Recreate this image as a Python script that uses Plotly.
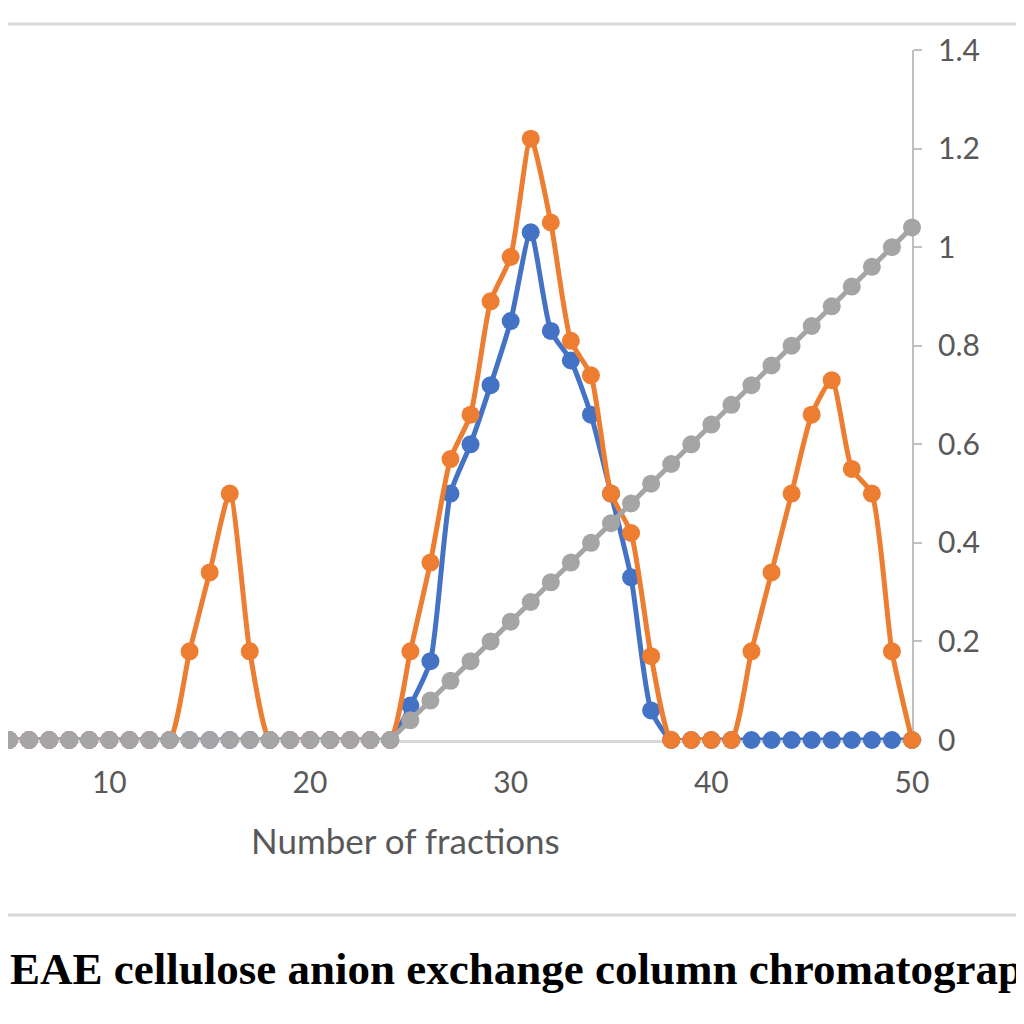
import plotly.graph_objects as go

# fraction numbers and readings
fractions = list(range(1, 51))

protein = [0, 0, 0, 0, 0, 0, 0, 0, 0, 0,
           0, 0, 0, 0, 0, 0, 0, 0, 0, 0,
           0, 0, 0, 0, 0.07, 0.16, 0.50, 0.60, 0.72, 0.85,
           1.03, 0.83, 0.77, 0.66, 0.50, 0.33, 0.06, 0, 0, 0,
           0, 0, 0, 0, 0, 0, 0, 0, 0, 0]

carbohydrate = [0, 0, 0, 0, 0, 0, 0, 0, 0, 0,
                0, 0, 0, 0.18, 0.34, 0.50, 0.18, 0, 0, 0,
                0, 0, 0, 0, 0.18, 0.36, 0.57, 0.66, 0.89, 0.98,
                1.22, 1.05, 0.81, 0.74, 0.50, 0.42, 0.17, 0, 0, 0,
                0, 0.18, 0.34, 0.50, 0.66, 0.73, 0.55, 0.50, 0.18, 0]

nacl = [0, 0, 0, 0, 0, 0, 0, 0, 0, 0,
        0, 0, 0, 0, 0, 0, 0, 0, 0, 0,
        0, 0, 0, 0, 0.04, 0.08, 0.12, 0.16, 0.20, 0.24,
        0.28, 0.32, 0.36, 0.40, 0.44, 0.48, 0.52, 0.56, 0.60, 0.64,
        0.68, 0.72, 0.76, 0.80, 0.84, 0.88, 0.92, 0.96, 1.00, 1.04]

x_ticks = [10, 20, 30, 40, 50]
y_ticks = [0, 0.2, 0.4, 0.6, 0.8, 1, 1.2, 1.4]

caption = "EAE cellulose anion exchange column chromatograp"
x_title = "Number of fractions"

fig = go.Figure()

# blue first, orange on top, gray on top of everything (like excel)
fig.add_trace(go.Scatter(x=fractions, y=protein, mode="lines+markers",
                         line=dict(color="#4472C4", width=5, shape="spline", smoothing=0.6),
                         marker=dict(color="#4472C4", size=18), cliponaxis=False))
fig.add_trace(go.Scatter(x=fractions, y=carbohydrate, mode="lines+markers",
                         line=dict(color="#ED7D31", width=5, shape="spline", smoothing=0.6),
                         marker=dict(color="#ED7D31", size=18), cliponaxis=False))
fig.add_trace(go.Scatter(x=fractions, y=nacl, mode="lines+markers",
                         line=dict(color="#A5A5A5", width=5),
                         marker=dict(color="#A5A5A5", size=18), cliponaxis=False))

tick_font = dict(family="Lato", size=30, color="#595959")

# page has an 8px body margin, so margins are shifted by that
fig.update_layout(
    width=1024, height=1024,
    margin=dict(l=0, r=120, t=42, b=292),
    paper_bgcolor="white", plot_bgcolor="white",
    showlegend=False,
    xaxis=dict(range=[4.95, 50], tickvals=x_ticks, ticks="", showgrid=False,
               zeroline=False, showline=True, linecolor="#d9d9d9", linewidth=3,
               layer="below traces", tickfont=tick_font, ticklabelstandoff=14),
    yaxis=dict(range=[0, 1.4], tickvals=y_ticks, side="right", showgrid=False,
               zeroline=False, showline=True, linecolor="#bfbfbf", linewidth=2,
               ticks="outside", ticklen=8, tickcolor="#bfbfbf", tickwidth=2,
               tickfont=tick_font, ticklabelstandoff=10, layer="below traces"),
)

fig.add_annotation(text=x_title, xref="paper", yref="paper", x=0.440, y=-0.145,
                   yanchor="middle", showarrow=False,
                   font=dict(family="Lato", size=35, color="#595959"))
fig.add_annotation(text="<b>" + caption + "</b>", xref="paper", yref="paper",
                   x=0, y=-0.332, xanchor="left", yanchor="middle", showarrow=False,
                   font=dict(family="Liberation Serif", size=45, color="black"))

# light border lines of the figure box
fig.add_shape(type="line", xref="paper", yref="paper", x0=-0.02, x1=1.14, y0=1.0377, y1=1.0377,
              line=dict(color="#d9d9d9", width=3))
fig.add_shape(type="line", xref="paper", yref="paper", x0=-0.02, x1=1.14, y0=-0.2536, y1=-0.2536,
              line=dict(color="#d9d9d9", width=3))

fig.write_html("out.html")
